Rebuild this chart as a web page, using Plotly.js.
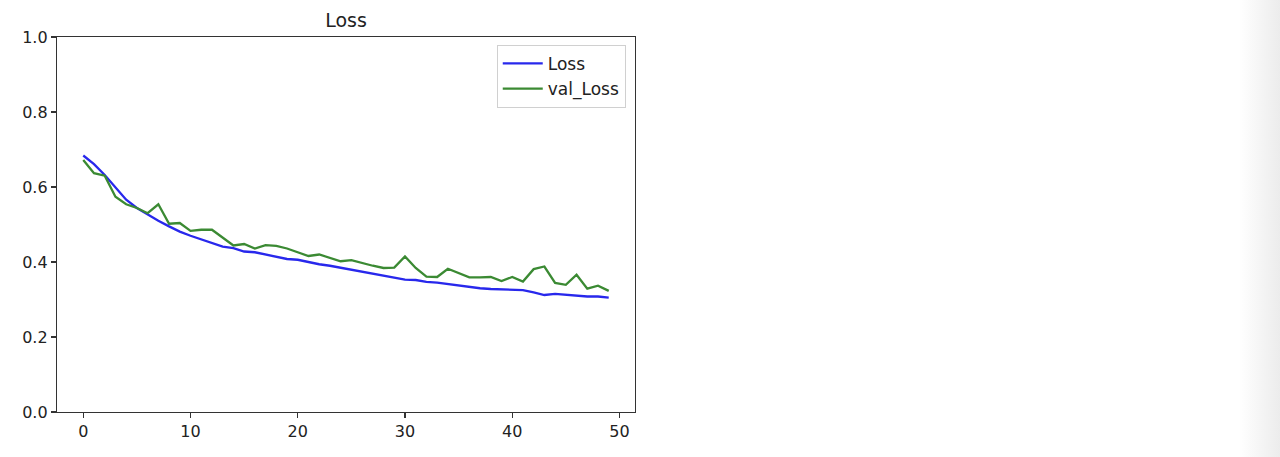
<!DOCTYPE html>
<html>
<head>
<meta charset="utf-8">
<script src="https://cdn.plot.ly/plotly-3.0.1.min.js"></script>
<style>
  html, body { margin:0; padding:0; width:1280px; height:457px; overflow:hidden;
    background: linear-gradient(to right, #ffffff 0%, #ffffff 96.8%, #ececec 100%); }
  #chart { width:1280px; height:457px; }
</style>
</head>
<body>
<div id="chart"></div>
<script>
const epochs = Array.from({length: 50}, (_, i) => i);
const loss = [0.684, 0.661, 0.632, 0.600, 0.566, 0.544, 0.526, 0.510, 0.495, 0.481,
              0.470, 0.461, 0.452, 0.441, 0.437, 0.428, 0.426, 0.420, 0.413, 0.408,
              0.406, 0.399, 0.394, 0.390, 0.385, 0.379, 0.375, 0.368, 0.364, 0.359,
              0.353, 0.352, 0.347, 0.345, 0.341, 0.337, 0.333, 0.330, 0.328, 0.327,
              0.326, 0.325, 0.319, 0.312, 0.315, 0.312, 0.310, 0.308, 0.308, 0.305];
const valLoss = [0.672, 0.637, 0.630, 0.574, 0.554, 0.544, 0.530, 0.554, 0.502, 0.504,
                 0.483, 0.486, 0.486, 0.464, 0.444, 0.448, 0.436, 0.445, 0.443, 0.436,
                 0.425, 0.416, 0.420, 0.412, 0.402, 0.405, 0.397, 0.390, 0.384, 0.385,
                 0.415, 0.384, 0.361, 0.360, 0.382, 0.370, 0.359, 0.359, 0.360, 0.349,
                 0.360, 0.348, 0.381, 0.388, 0.344, 0.339, 0.366, 0.329, 0.337, 0.323];
const seriesNames = ['Loss', 'val_Loss'];
const xTicks = [0, 10, 20, 30, 40, 50];
const yTicks = [0.0, 0.2, 0.4, 0.6, 0.8, 1.0];

const font = 'DejaVu Sans, sans-serif';
const traces = [
  {x: epochs, y: loss, name: seriesNames[0], mode: 'lines', type: 'scatter',
   line: {color: '#2828ec', width: 2.3}},
  {x: epochs, y: valLoss, name: seriesNames[1], mode: 'lines', type: 'scatter',
   line: {color: '#3b8a33', width: 2.3}}
];
const axisCommon = {
  showgrid: false, zeroline: false, showline: true, mirror: true,
  linecolor: '#333333', linewidth: 1.2, ticks: 'outside', ticklen: 5,
  tickcolor: '#333333', tickwidth: 1.2,
  tickfont: {family: font, size: 16, color: '#222222'}
};
const layout = {
  width: 1280, height: 457,
  margin: {l: 57, r: 645, t: 37, b: 45},
  paper_bgcolor: 'rgba(0,0,0,0)', plot_bgcolor: '#ffffff',
  showlegend: true,
  title: {text: 'Loss', font: {family: font, size: 19, color: '#222222'},
          x: 0.5, xref: 'paper', y: 1 - 20/457, yref: 'container', yanchor: 'middle'},
  xaxis: Object.assign({}, axisCommon, {range: [-2.45, 51.45], tickvals: xTicks,
          ticktext: xTicks.map(String)}),
  yaxis: Object.assign({}, axisCommon, {range: [0, 1], tickvals: yTicks,
          ticktext: yTicks.map(v => v.toFixed(1))}),
  legend: {x: 0.984, xanchor: 'right', y: 0.979, yanchor: 'top',
           bgcolor: '#ffffff', bordercolor: '#d0d0d0', borderwidth: 1,
           itemwidth: 40,
           font: {family: font, size: 17, color: '#222222'}}
};
Plotly.newPlot('chart', traces, layout, {displayModeBar: false, staticPlot: true});
</script>
</body>
</html>
